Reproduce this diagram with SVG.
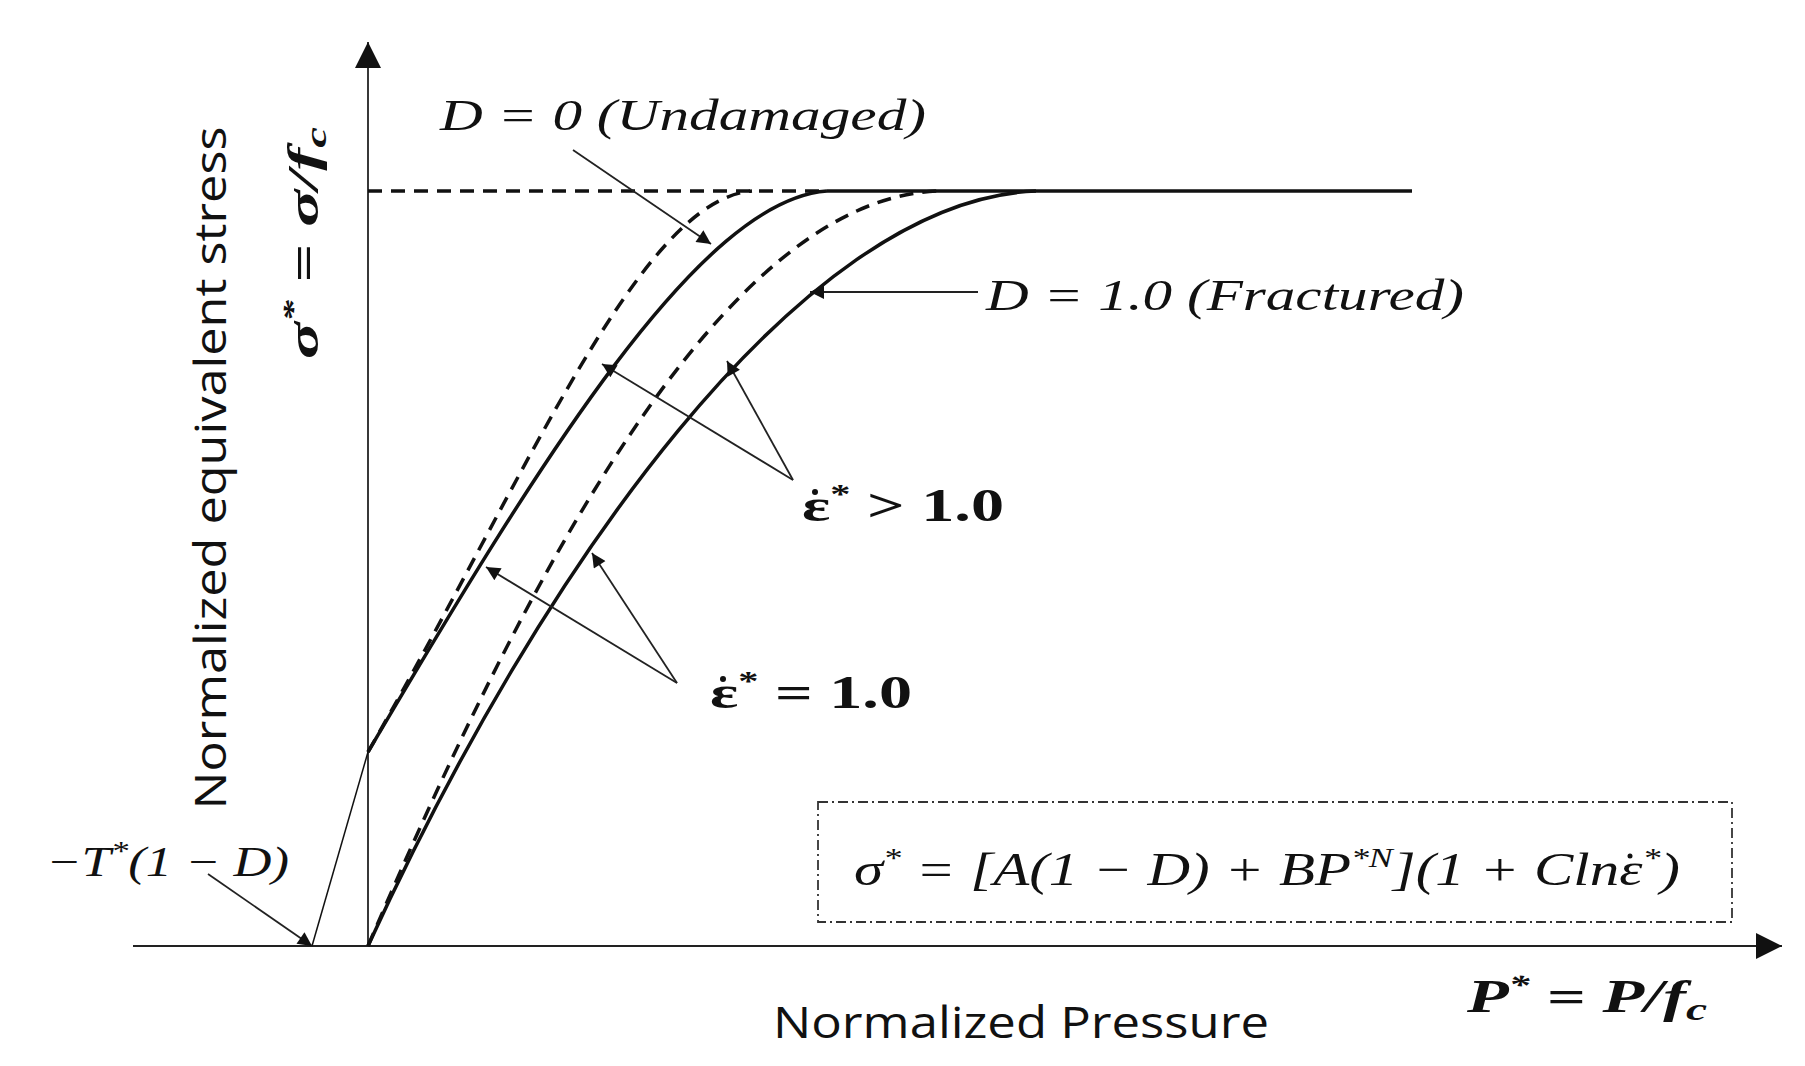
<svg xmlns="http://www.w3.org/2000/svg" width="1805" height="1066" viewBox="0 0 1805 1066">
<defs>
<marker id="ah" viewBox="0 0 10 10" refX="10" refY="5" markerWidth="30" markerHeight="14" markerUnits="userSpaceOnUse" orient="auto"><path d="M0,0 L10,5 L0,10 Z" fill="#111"/></marker>
<marker id="ax" viewBox="0 0 10 10" refX="10" refY="5" markerWidth="40" markerHeight="26" markerUnits="userSpaceOnUse" orient="auto"><path d="M0,0 L10,5 L0,10 Z" fill="#111"/></marker>
</defs>
<style>
.s{fill:none;stroke:#111;stroke-width:3.5}
.d{fill:none;stroke:#111;stroke-width:3.5;stroke-dasharray:14 9}
.a{fill:none;stroke:#222;stroke-width:1.8}
.m{font-family:"Liberation Serif",serif;font-style:italic;fill:#111}
.b{font-family:"Liberation Serif",serif;font-weight:bold;fill:#111}
.t{font-family:"Open Sans",sans-serif;fill:#111}
.sup{font-size:28px}
</style>
<rect width="1805" height="1066" fill="#fff"/>
<g id="axes">
<line class="a" x1="368" y1="946" x2="368" y2="42" stroke-width="2.2" marker-end="url(#ax)"/>
<line class="a" x1="133" y1="946" x2="1782" y2="946" stroke-width="2.5" marker-end="url(#ax)"/>
</g>
<g id="curves">
<line class="d" x1="368" y1="191" x2="827" y2="191"/>
<line class="s" x1="827" y1="191" x2="1412" y2="191"/>
<path class="s" d="M368,752 C540,460 700,200 827,191"/>
<line x1="312" y1="946" x2="368" y2="752" stroke="#111" stroke-width="1.5"/>
<path class="d" d="M368,752 C530,470 640,200 752,191"/>
<path class="s" d="M368,946 C540,570 800,200 1036,191"/>
<path class="d" d="M368,946 C525,580 720,200 937,191"/>
</g>
<g id="connectors">
<line class="a" x1="573" y1="150" x2="711" y2="244" marker-end="url(#ah)"/>
<line class="a" x1="978" y1="292" x2="810" y2="292" marker-end="url(#ah)"/>
<line class="a" x1="793" y1="480" x2="602" y2="364" marker-end="url(#ah)"/>
<line class="a" x1="793" y1="480" x2="727" y2="361" marker-end="url(#ah)"/>
<line class="a" x1="677" y1="683" x2="486" y2="567" marker-end="url(#ah)"/>
<line class="a" x1="677" y1="683" x2="592" y2="553" marker-end="url(#ah)"/>
<line class="a" x1="208" y1="874" x2="312" y2="946" marker-end="url(#ah)"/>
</g>
<g id="labels">
<text class="m" x="440" y="130" font-size="44" textLength="486" lengthAdjust="spacingAndGlyphs">D = 0 (Undamaged)</text>
<text class="m" x="986" y="310" font-size="44" textLength="478" lengthAdjust="spacingAndGlyphs">D = 1.0 (Fractured)</text>
<text class="b" x="802" y="521" font-size="46" textLength="202" lengthAdjust="spacingAndGlyphs">ε<tspan class="sup" dy="-18">*</tspan><tspan dy="18"> &gt; 1.0</tspan></text>
<circle cx="815" cy="492" r="3" fill="#111"/>
<text class="b" x="710" y="708" font-size="46" textLength="202" lengthAdjust="spacingAndGlyphs">ε<tspan class="sup" dy="-18">*</tspan><tspan dy="18"> = 1.0</tspan></text>
<circle cx="723" cy="679" r="3" fill="#111"/>
<text class="m" x="46" y="876" font-size="42" textLength="243" lengthAdjust="spacingAndGlyphs">−T<tspan class="sup" dy="-16">*</tspan><tspan dy="16">(1 − D)</tspan></text>
<rect x="818" y="802" width="914" height="120" fill="none" stroke="#333" stroke-width="1.8" stroke-dasharray="10 4 2 4"/>
<text class="m" x="854" y="885" font-size="46" textLength="826" lengthAdjust="spacingAndGlyphs">σ<tspan class="sup" dy="-18">*</tspan><tspan dy="18"> = [A(1 − D) + BP</tspan><tspan class="sup" dy="-18">*N</tspan><tspan dy="18">](1 + Clnε</tspan><tspan class="sup" dy="-18">*</tspan><tspan dy="18">)</tspan></text>
<circle cx="1630" cy="856" r="2.5" fill="#111"/>
<text class="b" x="1467" y="1012" font-size="46" font-style="italic" textLength="240" lengthAdjust="spacingAndGlyphs">P<tspan class="sup" dy="-18">*</tspan><tspan dy="18"> = P/f</tspan><tspan font-size="32" dy="8">c</tspan></text>
<text class="t" x="773" y="1038" font-size="44" textLength="496" lengthAdjust="spacingAndGlyphs">Normalized Pressure</text>
<text class="t" transform="translate(226,468) rotate(-90)" text-anchor="middle" font-size="44" textLength="683" lengthAdjust="spacingAndGlyphs">Normalized equivalent stress</text>
<text class="b" transform="translate(318,359) rotate(-90)" font-size="44" font-style="italic" textLength="232" lengthAdjust="spacingAndGlyphs">σ<tspan class="sup" dy="-16">*</tspan><tspan dy="16"> = σ/f</tspan><tspan font-size="30" dy="8">c</tspan></text>
</g>
</svg>
